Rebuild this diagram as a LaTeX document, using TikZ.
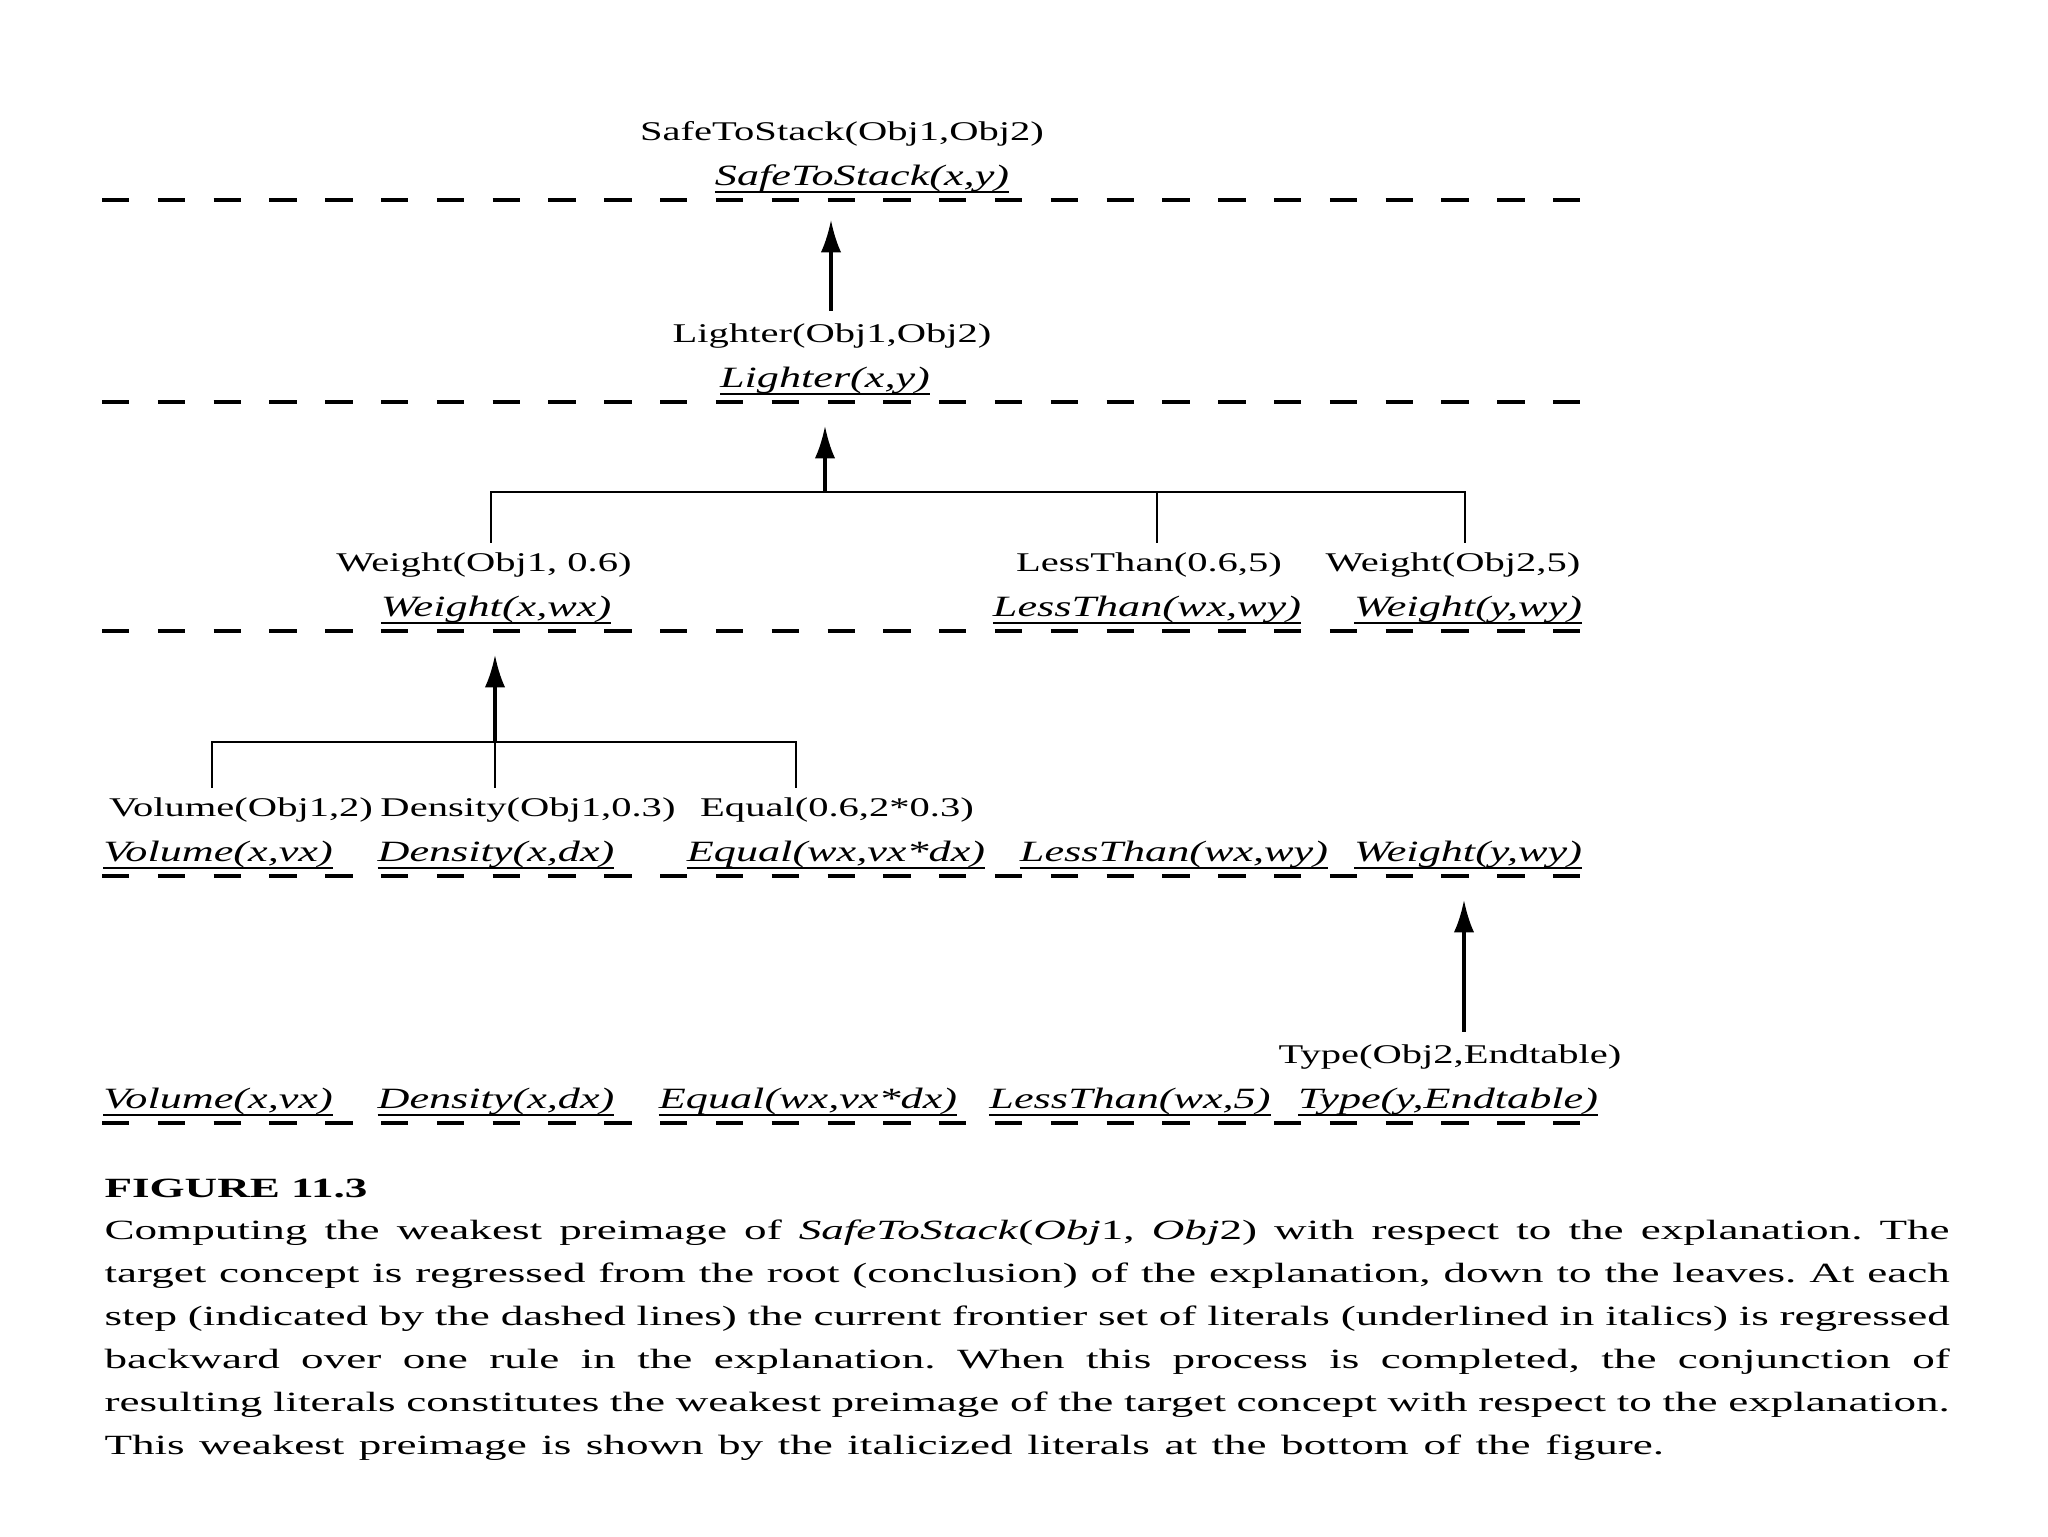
\documentclass[tikz,border=0pt]{standalone}
\usepackage{fontspec}
\setmainfont{Liberation Serif}[FakeStretch=1.5]
\newfontfamily\capfont{Liberation Serif}[FakeStretch=1.62]
\usetikzlibrary{arrows.meta}
\newcommand\ulit[1]{\setbox0\hbox{\itshape #1}\rlap{\rule[-3pt]{\wd0}{0.9pt}}\box0}
\newlength\capw
\setlength\capw{682.7pt}
\begin{document}
\begin{tikzpicture}[x=0.37pt,y=-0.37pt,
  up/.style={anchor=base,inner sep=0pt,font=\fontsize{10}{12}\selectfont},
  lit/.style={anchor=base,inner sep=0pt,font=\fontsize{10.9}{13}\selectfont},
  frontier/.style={dash pattern=on 10.1pt off 10.55pt,line width=1.5pt},
  tree/.style={line width=1pt,shorten <=3.3pt,shorten >=3.3pt},
  arr/.style={line width=1.2pt,-{Latex[length=12pt,width=7.5pt]},shorten <=4.5pt,shorten >=11.2pt}]
\fill[white] (0,0) rectangle (2048,1536);
\useasboundingbox (0,0) rectangle (2048,1536);
% frontier lines
\draw[frontier] (102,200) -- (1580,200);
\draw[frontier] (102,402) -- (1580,402);
\draw[frontier] (102,631) -- (1580,631);
\draw[frontier] (102,876) -- (1580,876);
\draw[frontier] (102,1123) -- (1580,1123);
% row A
\node[up]  (sU) at (842,140) {SafeToStack(Obj1,Obj2)};
\node[lit] (sI) at (862,185) {\ulit{SafeToStack(x,y)}};
% row B
\node[up]  (lU) at (832,342) {Lighter(Obj1,Obj2)};
\node[lit] (lI) at (825,387) {\ulit{Lighter(x,y)}};
% row C
\node[up]  (wU)  at (484,571)  {Weight(Obj1, 0.6)};
\node[up]  (ltU) at (1149,571) {LessThan(0.6,5)};
\node[up]  (w2U) at (1453,571) {Weight(Obj2,5)};
\node[lit] (wI)  at (496,616)  {\ulit{Weight(x,wx)}};
\node[lit] (ltI) at (1147,616) {\ulit{LessThan(wx,wy)}};
\node[lit] (w2I) at (1468,616) {\ulit{Weight(y,wy)}};
% row D
\node[up]  (vU)  at (241,816) {Volume(Obj1,2)};
\node[up]  (dU)  at (528,816) {Density(Obj1,0.3)};
\node[up]  (eU)  at (837,816) {Equal(0.6,2*0.3)};
\node[lit] (vI)  at (218,861)  {\ulit{Volume(x,vx)}};
\node[lit] (dI)  at (496,861)  {\ulit{Density(x,dx)}};
\node[lit] (eI)  at (836,861)  {\ulit{Equal(wx,vx*dx)}};
\node[lit] (lt2I) at (1174,861) {\ulit{LessThan(wx,wy)}};
\node[lit] (w3I) at (1468,861) {\ulit{Weight(y,wy)}};
% row E
\node[up]  (tU)  at (1450,1063) {Type(Obj2,Endtable)};
\node[lit] (vE)  at (218,1108)  {\ulit{Volume(x,vx)}};
\node[lit] (dE)  at (496,1108)  {\ulit{Density(x,dx)}};
\node[lit] (eE)  at (808,1108)  {\ulit{Equal(wx,vx*dx)}};
\node[lit] (ltE) at (1130,1108) {\ulit{LessThan(wx,5)}};
\node[lit] (tE)  at (1448,1108) {\ulit{Type(y,Endtable)}};
% junction coordinates
\coordinate (b1)  at (825,492);
\coordinate (b1l) at (491,492);
\coordinate (b1m) at (1157,492);
\coordinate (b1r) at (1465,492);
\coordinate (b2)  at (495,742);
\coordinate (b2l) at (212,742);
\coordinate (b2r) at (796,742);
% tree connectors
\draw[tree] (wU.north -| b1l) -- (b1l) -- (b1r) -- (w2U.north -| b1r);
\draw[tree,shorten >=0pt] (ltU.north -| b1m) -- (b1m);
\draw[tree] (vU.north -| b2l) -- (b2l) -- (b2r) -- (eU.north -| b2r);
\draw[tree,shorten >=0pt] (dU.north -| b2) -- (b2);
% arrows
\draw[arr,shorten >=9.7pt] (lU.north -| 831,0) -- (sI.south -| 831,0);
\draw[arr,shorten <=0pt] (b1) -- (b1 |- lI.south);
\draw[arr,shorten <=0pt] (b2) -- (b2 |- wI.south);
\draw[arr] (tU.north -| 1464,0) -- (w3I.south -| 1464,0);
% caption
\node[anchor=base west,inner sep=0pt,text width=\capw,
      font=\capfont\fontsize{10.3}{15.9}\selectfont] (cap) at (104,1197) {%
\setlength\parindent{0pt}\frenchspacing
\spaceskip=0.4em plus 1em minus 0.15em\relax
\xspaceskip=0.4em plus 1em minus 0.15em\relax
{\bfseries FIGURE 11.3}\par
\makebox[\capw][s]{Computing the weakest preimage of \textit{SafeToStack}(\textit{Obj}1, \textit{Obj}2) with respect to the explanation. The}\par
\makebox[\capw][s]{target concept is regressed from the root (conclusion) of the explanation, down to the leaves. At each}\par
\makebox[\capw][s]{step (indicated by the dashed lines) the current frontier set of literals (underlined in italics) is regressed}\par
\makebox[\capw][s]{backward over one rule in the explanation. When this process is completed, the conjunction of}\par
\makebox[\capw][s]{resulting literals constitutes the weakest preimage of the target concept with respect to the explanation.}\par
\makebox[577pt][s]{This weakest preimage is shown by the italicized literals at the bottom of the figure.}};
\end{tikzpicture}
\end{document}
